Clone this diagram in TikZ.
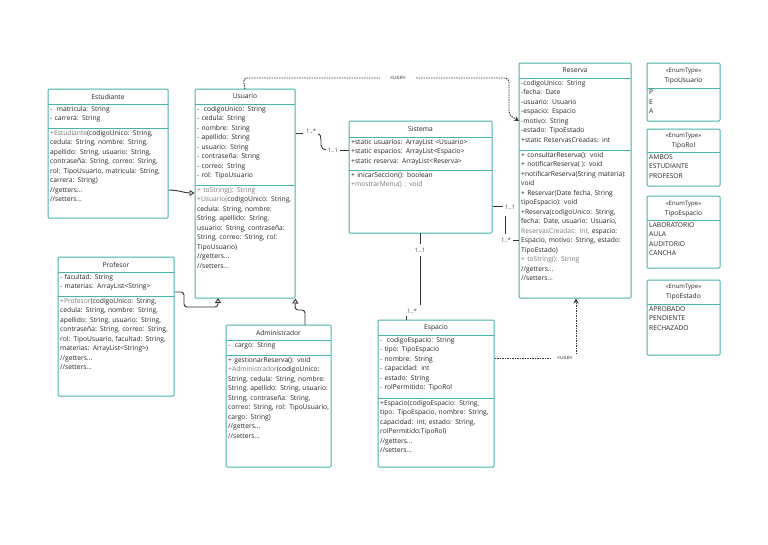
\documentclass[tikz,border=0pt]{standalone}
\usepackage{fontspec}
\setmainfont{Open Sans}
\usetikzlibrary{arrows.meta}
\definecolor{teal1}{RGB}{72,180,172}
\definecolor{grey1}{RGB}{120,120,120}
\hyphenpenalty=10000
\exhyphenpenalty=10000
\newcommand{\umlcls}[9]{%
  \node[box, minimum width=#4-#2, minimum height=#5-#3] (#1) at ({(#2+#4)/2},{(#3+#5)/2}) {};
  \draw[teal1, line width=1pt] (#2,#6) -- (#4,#6);
  \draw[teal1, line width=1pt] (#2,#7) -- (#4,#7);
  \node[txt, anchor=center] (#1t) at ({(#2+#4)/2},{(#3+#6)/2}) {#8};
  \node[txt, anchor=north west, text width=#4-#2-4] (#1a) at (#2+1,#6+1) {#9};
}
\begin{document}
\begin{tikzpicture}[x=1pt,y=-1pt,
  box/.style={draw=teal1, line width=1pt, rounded corners=1pt, fill=white, inner sep=0pt},
  txt/.style={inner sep=1pt, align=left, font=\fontsize{6.7}{9.5}\selectfont, text=black!85},
  lbl/.style={inner sep=1pt, font=\fontsize{6}{7}\selectfont, text=black!70},
  conn/.style={line width=0.9pt, black!80},
  gen/.style={conn, -{Triangle[open, width=6pt, length=5pt]}},
  usearrow/.style={line width=0.9pt, black!80, dashed, dash pattern=on 1.5pt off 1pt, -{Stealth[length=5pt,width=5pt]}}]
\useasboundingbox (0,0) rectangle (768,544);
\fill[white] (0,0) rectangle (768,544);
% classes
\umlcls{est}{48}{89}{168}{218}{104}{128}{Estudiante}{-\ \ matricula: String\\- carrera: String}
\node[txt, anchor=north west, text width=117] at (49,129) {\textcolor{grey1}{+Estudiante}(codigoUnico: String, cedula: String, nombre: String, apellido: String, usuario: String, contraseña: String, correo: String, rol: TipoUsuario, matricula: String, carrera: String)\\//getters...\\//setters...};
\umlcls{usu}{195}{89}{295}{298}{104}{185}{Usuario}{-\ \ codigoUnico: String\\- cedula: String\\- nombre: String\\- apellido: String\\- usuario: String\\- contraseña: String\\- correo: String\\- rol: TipoUsuario}
\node[txt, anchor=north west, text width=97] at (196,186) {\textcolor{grey1}{+ toString(): String}\\\textcolor{grey1}{+Usuario(}codigoUnico: String, cedula: String, nombre: String, apellido: String, usuario: String, contraseña: String, correo: String, rol: TipoUsuario)\\//getters...\\//setters...};
\umlcls{prof}{58}{257}{174}{396}{272}{296}{Profesor}{- facultad: String\\- materias: ArrayList<String>}
\node[txt, anchor=north west, text width=113] at (59,297) {\textcolor{grey1}{+Profesor}(codigoUnico: String, cedula: String, nombre: String, apellido: String, usuario: String, contraseña: String, correo: String, rol: TipoUsuario, facultad: String, materias: ArrayList<String>)\\//getters...\\//setters...};
\umlcls{adm}{226}{325}{331}{467}{340}{355}{Administrador}{-\ \ cargo: String}
\node[txt, anchor=north west, text width=102] at (227,356) {+ gestionarReserva(): void\\\textcolor{grey1}{+Administrador}(codigoUnico: String, cedula: String, nombre: String, apellido: String, usuario: String, contraseña: String, correo: String, rol: TipoUsuario, cargo: String)\\//getters...\\//setters...};
\umlcls{sis}{349}{121}{492}{233}{137}{170}{Sistema}{+static usuarios: ArrayList <Usuario>\\+static espacios: ArrayList<Espacio>\\+static reserva: ArrayList<Reserva>}
\node[txt, anchor=north west, text width=139] at (350,171) {+ inicarSeccion(): boolean\\\textcolor{grey1}{+mostrarMenu() : void}};
\umlcls{res}{519}{63}{631}{298}{78}{150}{Reserva}{-codigoUnico: String\\-fecha: Date\\-usuario: Usuario\\-espacio: Espacio\\-motivo: String\\-estado: TipoEstado\\+static ReservasCreadas: int}
\node[txt, anchor=north west, text width=109] at (520,151) {+ consultarReserva(): void\\+ notificarReserva( ): void\\+notificarReserva(String materia): void\\+ Reservar(Date fecha, String tipoEspacio): void\\+Reserva(codigoUnico: String, fecha: Date, usuario: Usuario, \textcolor{grey1}{ReservasCreadas: Int,} espacio: Espacio, motivo: String, estado: TipoEstado)\\\textcolor{grey1}{+ toString(): String}\\//getters...\\//setters...};
\umlcls{esp}{378}{320}{494}{467}{335}{398}{Espacio}{-\ \ codigoEspacio: String\\- tipo: TipoEspacio\\- nombre: String\\- capacidad: int\\- estado: String\\- rolPermitido: TipoRol}
\node[txt, anchor=north west, text width=113] at (379,399) {+Espacio(codigoEspacio: String, tipo: TipoEspacio, nombre: String, capacidad: int, estado: String, rolPermitido:TipoRol)\\//getters...\\//setters...};
% enums
\node[box, minimum width=73, minimum height=58] (e1) at (683.5,92) {};
\draw[teal1, line width=1pt] (647,88) -- (720,88);
\node[txt, align=center] (e1t) at (683.5,76) {\fontsize{6}{8.5}\selectfont <<EnumType>>\\TipoUsuario};
\node[txt, anchor=north west] (e1a) at (648,89) {P\\E\\A};
\node[box, minimum width=73, minimum height=57] (e2) at (683.5,157.5) {};
\draw[teal1, line width=1pt] (647,152) -- (720,152);
\node[txt, align=center] (e2t) at (683.5,141) {\fontsize{6}{8.5}\selectfont <<EnumType>>\\TipoRol};
\node[txt, anchor=north west] (e2a) at (648,153) {AMBOS\\ESTUDIANTE\\PROFESOR};
\node[box, minimum width=73, minimum height=72] (e3) at (683.5,232) {};
\draw[teal1, line width=1pt] (647,220) -- (720,220);
\node[txt, align=center] (e3t) at (683.5,209) {\fontsize{6}{8.5}\selectfont <<EnumType>>\\TipoEspacio};
\node[txt, anchor=north west] (e3a) at (648,221) {LABORATORIO\\AULA\\AUDITORIO\\CANCHA};
\node[box, minimum width=73, minimum height=75] (e4) at (683.5,317.5) {};
\draw[teal1, line width=1pt] (647,304) -- (720,304);
\node[txt, align=center] (e4t) at (683.5,292) {\fontsize{6}{8.5}\selectfont <<EnumType>>\\TipoEstado};
\node[txt, anchor=north west] (e4a) at (648,305) {APROBADO\\PENDIENTE\\RECHAZADO};
% generalizations
\draw[gen] (est.east |- 0,190) to[out=0,in=180] (usu.west |- 0,193);
\draw[gen, rounded corners=3pt] (prof.east |- 0,292) -- (184,292) -- (184,307) -- (218,307) -- (218,298);
\draw[gen, rounded corners=3pt] (305,325) -- (305,310) -- (295,310) -- (usu.south east);
% Usuario - Sistema
\coordinate (us1) at (303,133);
\draw[conn] (usu.east |- 0,133) -- (us1);
\node[lbl, anchor=west] at (305,131) {1..*};
\draw[conn] (318,134) to[out=0,in=90] (321,140) -- (321,145) to[out=-90,in=180] (326,150);
\node[lbl] at (333,150) {1..1};
\draw[conn] (340,150) -- (sis.west |- 0,150);
% use Usuario -> Reserva
\draw[line width=0.9pt, black!80, dashed, dash pattern=on 1.5pt off 1pt, rounded corners=4pt] (usu.north |- 0,89) -- (243,78) -- (380,78);
\node[lbl] (use1) at (398,78) {<<use>>};
\draw[usearrow, rounded corners=4pt] (416,78) -- (509,78) -- (509,115) -- (519,121);
% Sistema - Reserva
\draw[conn] (sis.east |- 0,206) -- (503,206);
\node[lbl] at (510,207) {1..1};
\draw[conn] (505,216) -- (505,234);
\node[lbl] at (506,240) {1..*};
\draw[conn] (513,240) -- (res.west |- 0,240);
% Sistema - Espacio
\draw[conn] (420,233) -- (420,244);
\node[lbl] at (420,250) {1..1};
\draw[conn] (420,256) -- (420,305);
\node[lbl] at (412,311) {1..*};
\draw[conn] (406,316) -- (406,320);
% use Espacio -> Reserva
\draw[line width=0.9pt, black!80, dashed, dash pattern=on 1.5pt off 1pt] (esp.east |- 0,358) -- (550,358);
\node[lbl] (use2) at (565,358) {<<use>>};
\draw[usearrow] (576,354) -- (res.south -| 576,0);
\end{tikzpicture}
\end{document}
